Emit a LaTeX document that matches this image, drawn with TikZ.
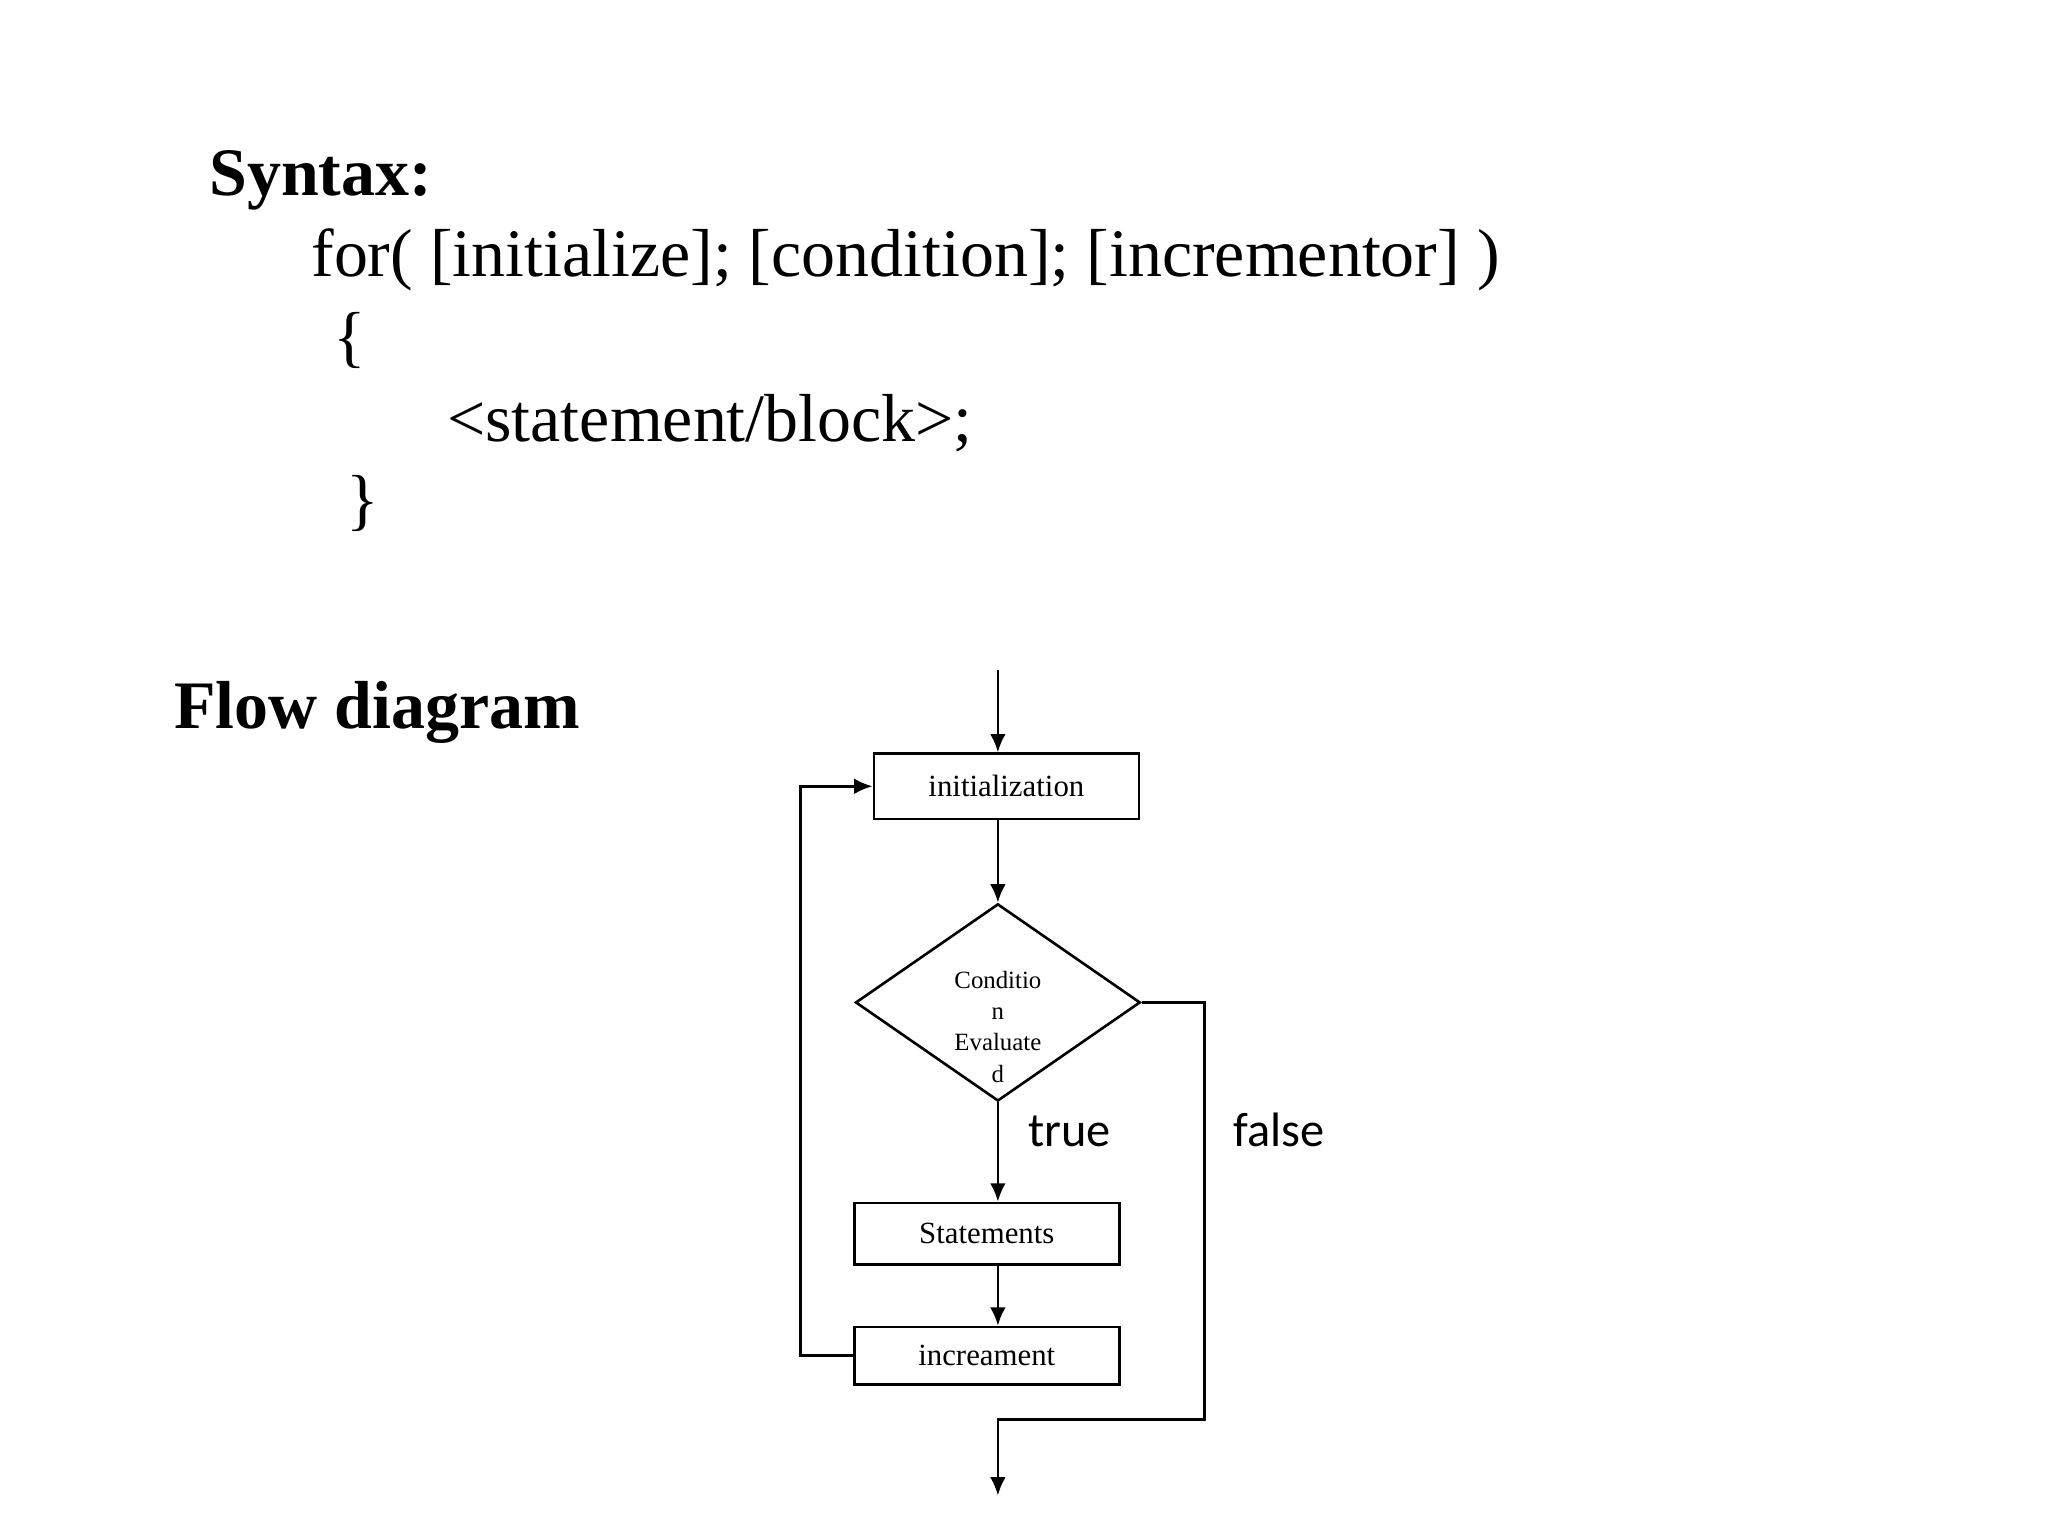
\documentclass[tikz,border=0pt]{standalone}
\usepackage{fontspec}
\setmainfont{Liberation Serif}
\newfontfamily\calibrifont{Carlito}
\usetikzlibrary{shapes.geometric,arrows.meta}
\begin{document}
\begin{tikzpicture}[x=0.5pt,y=-0.5pt,
  box/.style={draw,line width=1pt,rectangle,inner sep=0pt,font=\fontsize{11.8}{13}\selectfont},
  arr/.style={line width=1pt,-{Latex[length=7pt,width=6pt]}},
  big/.style={anchor=base west,inner sep=0pt,font=\fontsize{26}{30}\selectfont}]
\useasboundingbox (0,0) rectangle (1568,1176);
\node[big,font=\fontsize{26}{30}\selectfont\bfseries] (syn) at (160,150) {Syntax:};
\node[big] (for) at (238,212) {for( [initialize]; [condition]; [incrementor] )};
\node[big] (ob) at (255,275) {\{};
\node[big] (st) at (342,338) {<statement/block>;};
\node[big] (cb) at (265,400) {\}};
\node[big,font=\fontsize{26}{30}\selectfont\bfseries] (fd) at (133,558) {Flow diagram};

\node[box,minimum width=101.5pt,minimum height=25pt] (init) at (770.5,602) {initialization};
\node[draw,line width=1pt,diamond,aspect=1.44,inner sep=0pt,minimum width=109pt,minimum height=75.5pt] (cond) at (764,767.5) {};
\node[align=center,inner sep=0pt,font=\fontsize{9.5}{12}\selectfont] (condtxt) at (764,786) {Conditio\\n\\Evaluate\\d};
\node[box,minimum width=101.5pt,minimum height=23.5pt] (stm) at (755.5,944.5) {Statements};
\node[box,minimum width=101.5pt,minimum height=22pt] (inc) at (755.5,1038) {increament};

\coordinate (top) at (764,513);
\coordinate (bot) at (764,1145);
\coordinate (lb) at (613,1038);
\coordinate (lt) at (613,602);
\coordinate (fr) at (922,767.5);
\coordinate (fb) at (922,1087);
\draw[arr] (top) -- (top |- init.north);
\draw[arr] (init.south -| cond.north) -- (cond.north);
\draw[arr] (cond.south) -- (cond.south |- stm.north);
\draw[arr] (cond.south |- stm.south) -- (cond.south |- inc.north);
\draw[arr] (inc.west) -- (lb) -- (lt) -- (init.west);
\draw[arr] (cond.east) -- (fr) -- (fb) -- (fb -| bot) -- (bot);

\node[anchor=base west,inner sep=0pt,font=\calibrifont\fontsize{18.5}{20}\selectfont] (t) at (787,878) {true};
\node[anchor=base west,inner sep=0pt,font=\calibrifont\fontsize{18.5}{20}\selectfont] (f) at (944,878) {false};
\end{tikzpicture}
\end{document}
